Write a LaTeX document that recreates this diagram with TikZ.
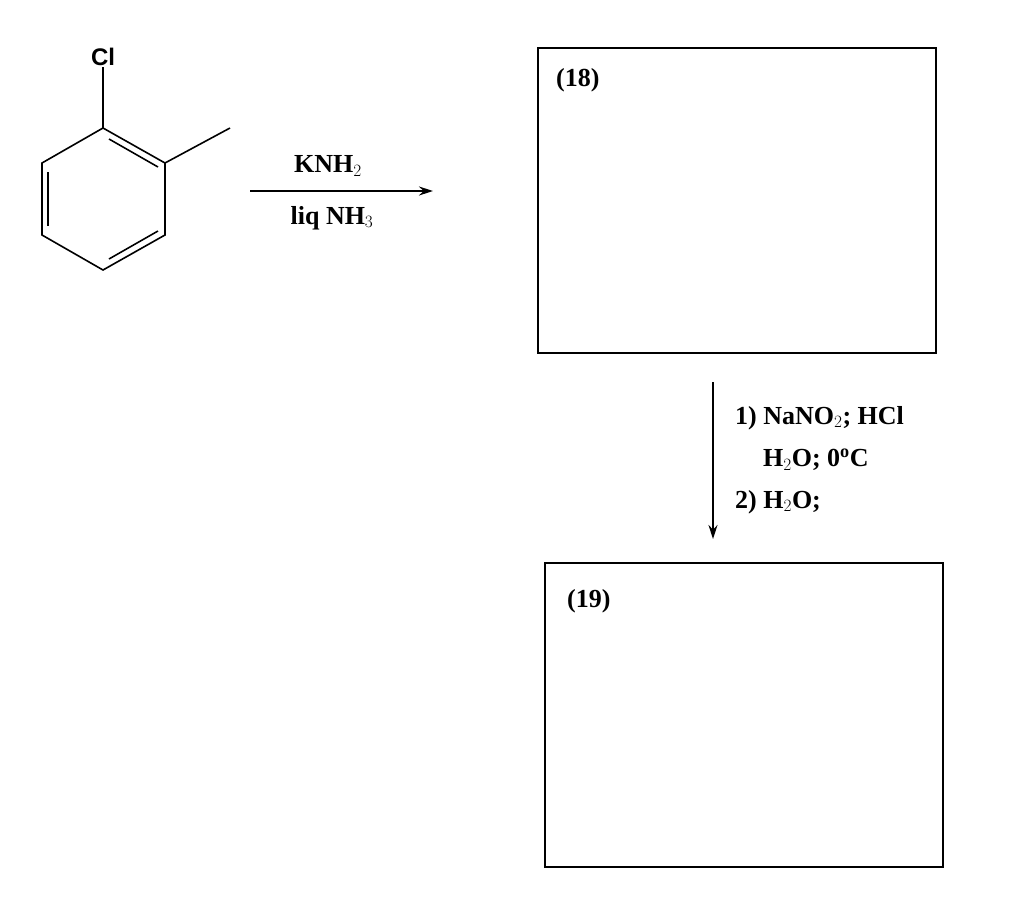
\documentclass[tikz,border=0pt]{standalone}
\usetikzlibrary{calc,arrows.meta}
\usepackage{fontspec}
\setmainfont{Liberation Serif}
\setsansfont{Liberation Sans}
\begin{document}
\begin{tikzpicture}[x=1pt,y=-1pt,
  bond/.style={line width=1.6pt},
  box/.style={draw,line width=1.4pt},
  lbl/.style={font=\fontsize{26}{30}\selectfont\bfseries,inner sep=0pt},
  arr/.style={line width=1.4pt,-{Stealth[length=14pt,width=9pt]}}]
\useasboundingbox (0,0) rectangle (1024,905);
% ring
\coordinate (a1) at (103,128); \coordinate (a2) at (165,163);
\coordinate (a3) at (165,235); \coordinate (a4) at (103,270);
\coordinate (a5) at (42,235); \coordinate (a6) at (42,163);
\draw[bond] (a1)--(a2)--(a3)--(a4)--(a5)--(a6)--cycle;
\draw[bond] (109,139) -- (158,167);
\draw[bond] (48,172) -- (48,226);
\draw[bond] (158,231) -- (109,259);
\node[font=\sffamily\fontsize{24}{28}\selectfont\bfseries,inner sep=1pt] (cl) at (103,57) {Cl};
\draw[bond] (a1) -- (cl.south);
\coordinate (me) at (230,128);
\draw[bond] (a2) -- (me);
% arrow 1
\coordinate (r1s) at (250,191); \coordinate (r1e) at (433,191);
\draw[arr] (r1s) -- (r1e);
\node[lbl] (k) at (328,166) {KNH$_2$};
\node[lbl] (l) at (332,218) {liq NH$_3$};
% boxes
\node[box,minimum width=398pt,minimum height=305pt,inner sep=0pt] (b18) at (737,200.5) {};
\node[lbl,anchor=north west] (t18) at (556,68) {(18)};
\node[box,minimum width=398pt,minimum height=304pt,inner sep=0pt] (b19) at (744,715) {};
\node[lbl,anchor=north west] (t19) at (567,589) {(19)};
% arrow 2
\coordinate (r2s) at (713,382); \coordinate (r2e) at (713,539);
\draw[arr] (r2s) -- (r2e);
\node[lbl,anchor=west] (c1) at (735,418) {1) NaNO$_2$; HCl};
\node[lbl,anchor=west] (c2) at (763,460) {H$_2$O; 0$^{\mathbf{o}}$C};
\node[lbl,anchor=west] (c3) at (735,502) {2) H$_2$O; $\mathbf{\Delta}$};
\end{tikzpicture}
\end{document}
